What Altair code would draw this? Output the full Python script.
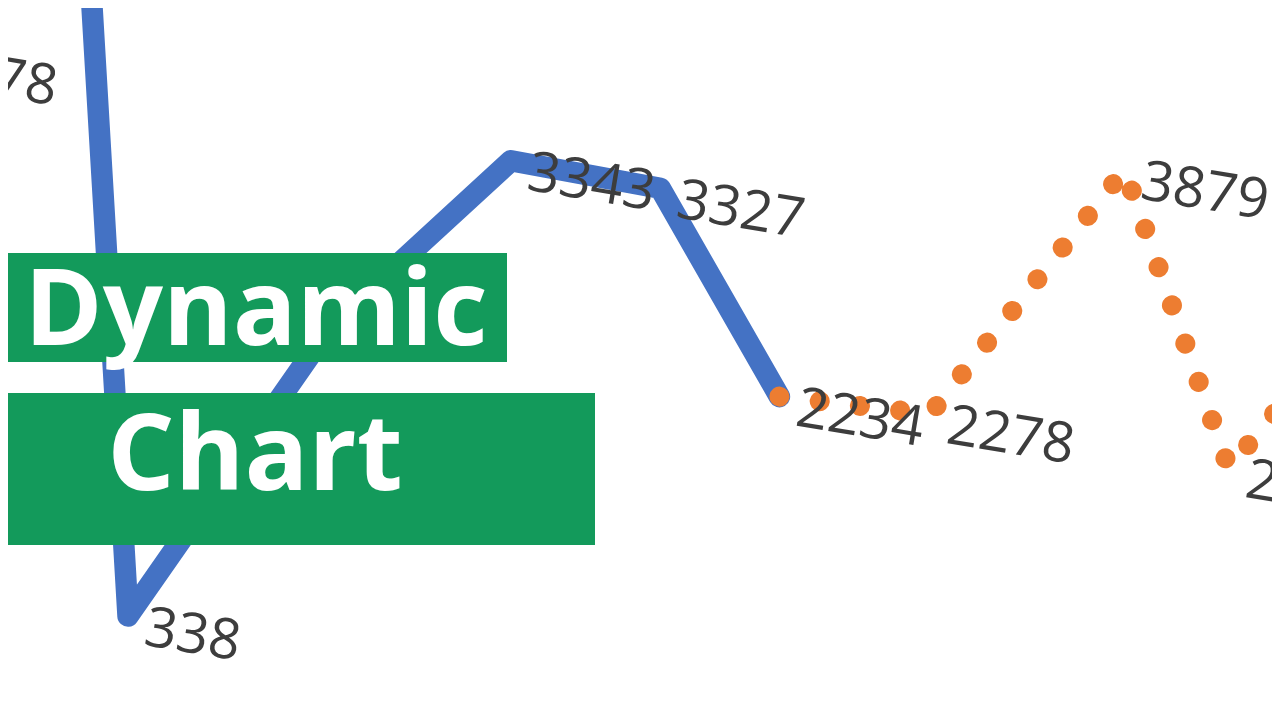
import math
import altair as alt
import pandas as pd

# ---- data ----
actual_idx = [0, 1, 2, 3, 4, 5, 6]
actual_val = [3378, 4264, 338, 2204, 3343, 3327, 2234]
actual_show = [True, True, True, False, True, True, True]

forecast_idx = [6, 7, 8, 9, 10]
forecast_val = [2234, 2278, 3879, 2251, 3770]
forecast_show = [False, True, True, True, True]

title_lines = ["Dynamic", "Chart"]

# ---- view geometry (zoomed, tilted view of the chart) ----
ANGLE = 9.4                      # tilt of the whole chart, degrees
STEP = 151.7                     # px per category
UNIT = 0.1703                    # px per value unit
X0, Y0 = -180.7, 623.3           # where category 0 / value 0 lands
C, S = math.cos(math.radians(ANGLE)), math.sin(math.radians(ANGLE))

BLUE, ORANGE, GREEN = "#4472C4", "#ED7D31", "#139A5B"

rows = []
for i, v, s in zip(actual_idx, actual_val, actual_show):
    rows.append({"i": i, "v": v, "series": "Actual", "show": s})
for i, v, s in zip(forecast_idx, forecast_val, forecast_show):
    rows.append({"i": i, "v": v, "series": "Forecast", "show": s})
df = pd.DataFrame(rows)

W, H = 1264, 698
base = alt.Chart(df).transform_calculate(
    sx=f"{X0} + datum.i * {STEP * C} + datum.v * {UNIT * S}",
    sy=f"{Y0} + datum.i * {STEP * S} - datum.v * {UNIT * C}",
)
x_enc = alt.X("sx:Q", scale=alt.Scale(domain=[8, 8 + W], nice=False, zero=False), axis=None)
y_enc = alt.Y("sy:Q", scale=alt.Scale(domain=[8, 8 + H], nice=False, zero=False, reverse=True), axis=None)

blue = base.transform_filter("datum.series == 'Actual'").mark_line(
    color=BLUE, strokeWidth=21.5, strokeCap="round", strokeJoin="round"
).encode(x=x_enc, y=y_enc, order="i:Q")

orange = base.transform_filter("datum.series == 'Forecast'").mark_line(
    color=ORANGE, strokeWidth=20, strokeCap="round", strokeJoin="round", strokeDash=[0.1, 40.4]
).encode(x=x_enc, y=y_enc, order="i:Q")

labels = base.transform_filter("datum.show").mark_text(
    angle=ANGLE, align="left", baseline="alphabetic", dx=19, dy=26,
    font="Open Sans", fontSize=56, color="#3d3d3d"
).encode(x=x_enc, y=y_enc, text=alt.Text("v:Q", format="d"))

t1 = pd.DataFrame({"t": [title_lines[0]]})
t2 = pd.DataFrame({"t": [title_lines[1]]})

box1 = alt.Chart(t1).mark_rect(color=GREEN).encode(
    x=alt.value(0), x2=alt.value(499), y=alt.value(245), y2=alt.value(354))
box2 = alt.Chart(t2).mark_rect(color=GREEN).encode(
    x=alt.value(0), x2=alt.value(587), y=alt.value(385), y2=alt.value(537))
txt1 = alt.Chart(t1).mark_text(
    font="Open Sans", fontWeight="bold", fontSize=106, color="white",
    align="center", baseline="alphabetic"
).encode(x=alt.value(248), y=alt.value(337), text="t:N")
txt2 = alt.Chart(t2).mark_text(
    font="Open Sans", fontWeight="bold", fontSize=106, color="white",
    align="center", baseline="alphabetic"
).encode(x=alt.value(247), y=alt.value(482), text="t:N")

chart = alt.layer(blue, orange, labels, box1, box2, txt1, txt2).properties(
    width=W, height=H, padding=0, autosize=alt.AutoSizeParams(type="none"),
    background="white"
).configure_view(stroke=None)

chart.save("out.html", embed_options={"renderer": "svg", "actions": False})
